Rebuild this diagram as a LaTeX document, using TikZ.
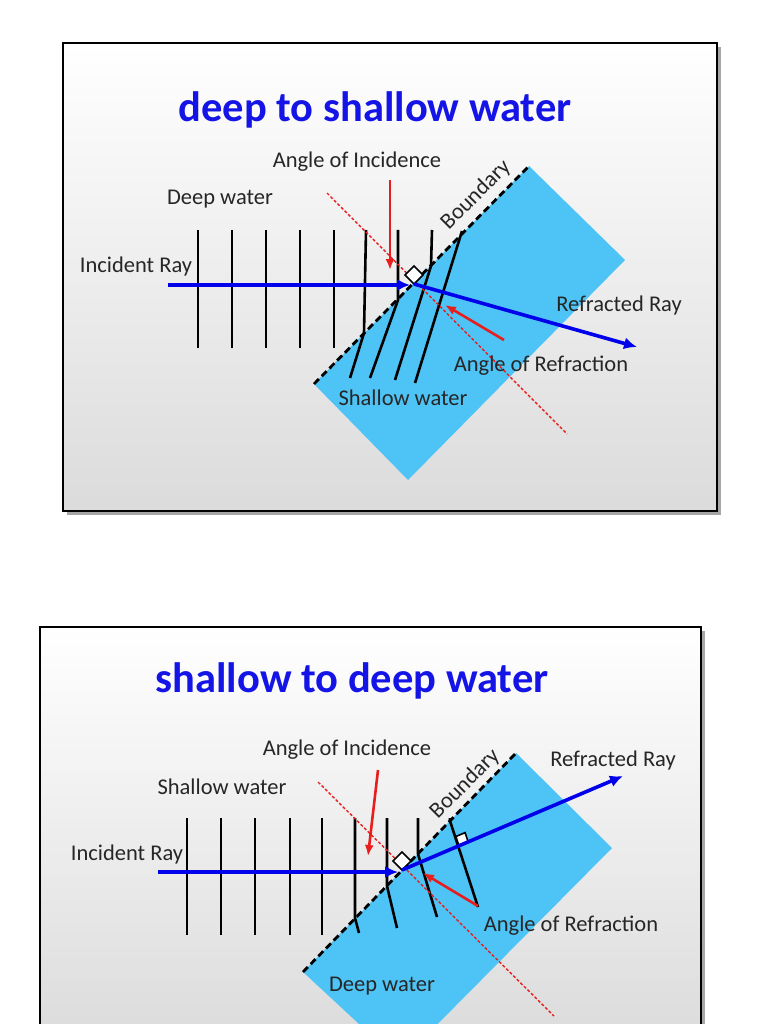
\documentclass[tikz,border=0pt]{standalone}
\usepackage{fontspec}
\setmainfont{Carlito}
\usetikzlibrary{arrows.meta}
\begin{document}
\begin{tikzpicture}[x=1pt,y=-1pt,
  lbl/.style={font=\fontsize{22.5}{24}\selectfont, text=black!85, inner sep=1pt},
  ttl/.style={font=\fontsize{42.5}{45}\selectfont\bfseries, text=titleblue},
  wave/.style={line width=2.6pt, black},
  ray/.style={line width=3.6pt, rayblue, -{Latex[length=13pt,width=12pt]}},
  redarr/.style={line width=2.6pt, redc, -{Latex[length=11pt,width=9pt]}},
  normal/.style={line width=1.4pt, redc, dash pattern=on 3pt off 2pt},
  bound/.style={line width=2.8pt, black, dash pattern=on 7pt off 4pt},
  water/.style={fill=waterc, draw=none},
  panel/.style={draw=black, line width=2pt, top color=white, bottom color=black!14}]
\definecolor{titleblue}{RGB}{20,20,230}
\definecolor{rayblue}{RGB}{0,0,235}
\definecolor{redc}{RGB}{232,30,30}
\definecolor{waterc}{RGB}{77,196,245}
\useasboundingbox (0,0) rectangle (768,1024);
\clip (0,0) rectangle (768,1024);
\fill[white] (0,0) rectangle (768,1024);
% ---------- panel 1 ----------
\fill[black!35] (67,47) rectangle (721,515);
\path[panel] (63,43) rectangle (717,511);
\node[ttl] (t1) at (375,110) {deep to shallow water};
\path[water] (529,166) -- (625,260) -- (408,480) -- (314,384) -- cycle;
\foreach \x in {198,232,266,300,334} \draw[wave] (\x,230) -- (\x,348);
\draw[wave] (366,230) -- (364,333) -- (350,378);
\draw[wave] (398,230) -- (398,300) -- (370,378);
\draw[wave] (432,230) -- (431,266) -- (395,380);
\draw[wave] (462,231) -- (415,383);
\coordinate (b1a) at (314,384); \coordinate (b1b) at (529,166);
\draw[bound] (b1a) -- (b1b);
\coordinate (n1a) at (327,193); \coordinate (n1b) at (567,434);
\draw[normal] (n1a) -- (n1b);
\coordinate (p1) at (414,284);
\draw[line width=1.6pt, fill=white] (p1) -- ++(9,-9) -- ++(-9,-9) -- ++(-9,9) -- cycle;
\coordinate (i1) at (168,285); \coordinate (r1) at (637,347);
\draw[ray] (i1) -- (410,285);
\draw[ray] (p1) -- (r1);
\coordinate (ra1) at (390,180); \coordinate (ra1e) at (390,270);
\draw[redarr] (ra1) -- (ra1e);
\coordinate (ra2) at (504,340); \coordinate (ra2e) at (445,305);
\draw[redarr] (ra2) -- (ra2e);
\node[lbl] (a1) at (357,162) {Angle of Incidence};
\node[lbl] (d1) at (220,199) {Deep water};
\node[lbl] (ir1) at (136,267) {Incident Ray};
\node[lbl, rotate=45] (bd1) at (476,195) {Boundary};
\node[lbl] (rr1) at (619,306) {Refracted Ray};
\node[lbl] (ar1) at (541,366) {Angle of Refraction};
\node[lbl] (s1) at (403,398) {Shallow water};
% ---------- panel 2 ----------
\fill[black!35] (44,631) rectangle (705,1040);
\path[panel] (40,627) rectangle (701,1040);
\node[ttl] (t2) at (352,681) {shallow to deep water};
\path[water] (516,753) -- (612,848) -- (400,1062) -- (303,972) -- cycle;
\foreach \x in {187,221,255,290,322} \draw[wave] (\x,818) -- (\x,935);
\draw[wave] (355,818) -- (355,918) -- (359,933);
\draw[wave] (387,818) -- (387,886) -- (397,928);
\draw[wave] (418,818) -- (418,854) -- (437,917);
\draw[wave] (450,818) -- (450,821) -- (478,907);
\coordinate (b2a) at (303,972); \coordinate (b2b) at (516,753);
\draw[bound] (b2a) -- (b2b);
\coordinate (n2a) at (318,782); \coordinate (n2b) at (554,1016);
\draw[normal] (n2a) -- (n2b);
\coordinate (p2) at (402,870);
\draw[line width=1.6pt, fill=white] (p2) -- ++(9,-9) -- ++(-9,-9) -- ++(-9,9) -- cycle;
\coordinate (q2) at (459,846);
\draw[line width=1.6pt, fill=white] (q2) -- ++(9.2,-3.9) -- ++(-3.1,-9.5) -- ++(-9.2,3.9) -- cycle;
\coordinate (i2) at (158,872); \coordinate (r2) at (623,776);
\draw[ray] (i2) -- (398,872);
\draw[ray] (p2) -- (r2);
\coordinate (ra3) at (378,770); \coordinate (ra3e) at (368,856);
\draw[redarr] (ra3) -- (ra3e);
\coordinate (ra4) at (478,906); \coordinate (ra4e) at (423,873);
\draw[redarr] (ra4) -- (ra4e);
\node[lbl] (a2) at (347,750) {Angle of Incidence};
\node[lbl] (s2) at (222,787) {Shallow water};
\node[lbl] (ir2) at (127,854) {Incident Ray};
\node[lbl, rotate=45] (bd2) at (465,784) {Boundary};
\node[lbl] (rr2) at (613,760) {Refracted Ray};
\node[lbl] (ar2) at (571,926) {Angle of Refraction};
\node[lbl] (d2) at (382,986) {Deep water};
\end{tikzpicture}
\end{document}
